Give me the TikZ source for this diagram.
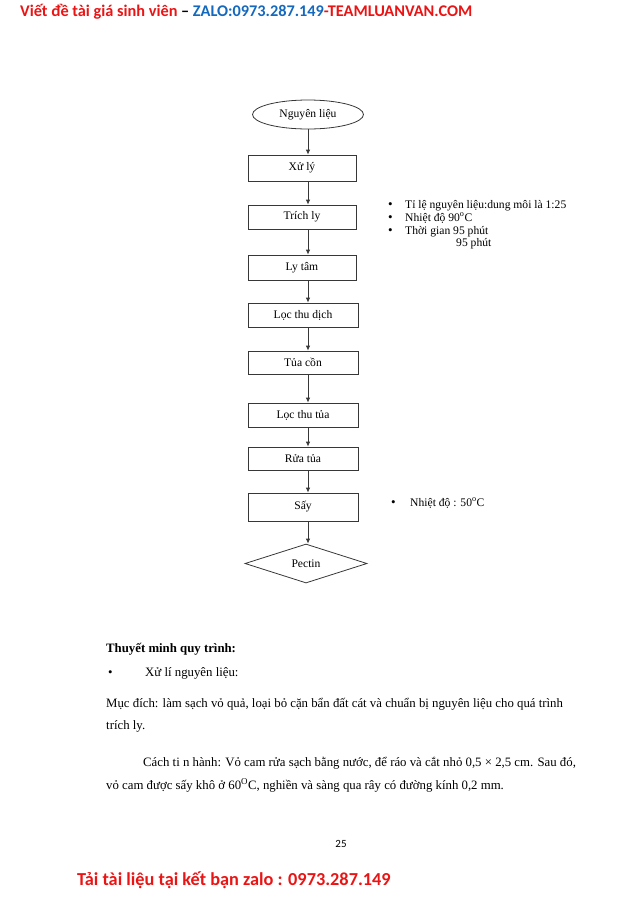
\documentclass[tikz,border=0pt]{standalone}
\usepackage{fontspec}
\setmainfont{Liberation Serif}
\newfontfamily\calib{Carlito}
\usetikzlibrary{shapes.geometric,arrows.meta}
\definecolor{hred}{RGB}{235,20,20}
\definecolor{hblue}{RGB}{20,105,190}
\definecolor{ln}{RGB}{55,55,55}
\tikzset{
  stepbox/.style={draw=ln,line width=0.8pt,rectangle,minimum width=108pt,minimum height=25pt,inner sep=0pt,font=\fontsize{11.6}{13}\selectfont},
  flowarr/.style={draw=ln,line width=0.8pt,-{Latex[length=5pt,width=4.5pt]}},
  note/.style={anchor=base west,inner sep=0pt,font=\fontsize{11.6}{13}\selectfont},
  dot/.style={anchor=base west,inner sep=0pt,font=\fontsize{13}{13}\selectfont},
  body/.style={anchor=base west,inner sep=0pt,font=\fontsize{12.8}{15}\selectfont},
}
\begin{document}
\begin{tikzpicture}[x=1pt,y=-1pt]
\useasboundingbox (0,0) rectangle (638,903);
% header
\node[anchor=base west,inner sep=0pt,font=\calib\bfseries\fontsize{16.3}{19}\selectfont] (hdr) at (20,16)
  {\textcolor{hred}{Viết đề tài giá sinh viên} – \textcolor{hblue}{ZALO:0973.287.149}\textcolor{hred}{-TEAMLUANVAN.COM}};
% flowchart
\coordinate (ax) at (308,0);
\node[draw=ln,line width=0.8pt,ellipse,minimum width=111pt,minimum height=29pt,inner sep=0pt,font=\fontsize{11.6}{13}\selectfont] (s0) at (308,114.5) {Nguyên liệu};
\node[stepbox,minimum height=26pt] (s1) at (302,168) {Xử lý};
\node[stepbox,minimum height=24pt] (s2) at (302,217) {Trích ly};
\node[stepbox] (s3) at (302,267.5) {Ly tâm};
\node[stepbox,minimum width=110pt,minimum height=24pt] (s4) at (303,315) {Lọc thu dịch};
\node[stepbox,minimum width=110pt,minimum height=23pt] (s5) at (303,362.5) {Tủa cồn};
\node[stepbox,minimum width=110pt,minimum height=24pt] (s6) at (303,415) {Lọc thu tủa};
\node[stepbox,minimum width=110pt,minimum height=23pt] (s7) at (303,458.5) {Rửa tủa};
\node[stepbox,minimum width=110pt,minimum height=28pt] (s8) at (303,507) {Sấy};
\node[draw=ln,line width=0.8pt,diamond,minimum width=122pt,minimum height=39pt,inner sep=0pt,font=\fontsize{11.6}{13}\selectfont] (s9) at (306,563.5) {Pectin};
\draw[flowarr] (s0.south) -- (s1.north -| ax);
\draw[flowarr] (s1.south -| ax) -- (s2.north -| ax);
\draw[flowarr] (s2.south -| ax) -- (s3.north -| ax);
\draw[flowarr] (s3.south -| ax) -- (s4.north -| ax);
\draw[flowarr] (s4.south -| ax) -- (s5.north -| ax);
\draw[flowarr] (s5.south -| ax) -- (s6.north -| ax);
\draw[flowarr] (s6.south -| ax) -- (s7.north -| ax);
\draw[flowarr] (s7.south -| ax) -- (s8.north -| ax);
\draw[flowarr] (s8.south -| ax) -- (s9.north -| ax);
% notes
\node[dot] (b1) at (388,208) {•};
\node[note] (n1) at (405,208) {Tỉ lệ nguyên liệu:dung môi là 1:25};
\node[dot] (b2) at (388,221) {•};
\node[note] (n2) at (405,221) {Nhiệt độ 90\textsuperscript{o}C};
\node[dot] (b3) at (388,234) {•};
\node[note] (n3) at (405,234) {Thời gian 95 phút};
\node[note] (n4) at (456,246) {95 phút};
\node[dot] (b4) at (391,506) {•};
\node[note] (n5) at (410,506) {Nhiệt độ : 50\textsuperscript{o}C};
% body text
\node[body,font=\bfseries\fontsize{12.8}{15}\selectfont] (t1) at (106,652) {Thuyết minh quy trình:};
\node[body] (t2b) at (108,676) {•};
\node[body] (t2) at (145,676) {Xử lí nguyên liệu:};
\node[body] (t3) at (106,707) {Mục đích: làm sạch vỏ quả, loại bỏ cặn bẩn đất cát và chuẩn bị nguyên liệu cho quá trình};
\node[body] (t4) at (106,729) {trích ly.};
\node[body] (t5) at (143,766) {Cách ti n hành: Vỏ cam rửa sạch bằng nước, để ráo và cắt nhỏ 0,5 × 2,5 cm. Sau đó,};
\node[body] (t6) at (106,789) {vỏ cam được sấy khô ở 60\textsuperscript{O}C, nghiền và sàng qua rây có đường kính 0,2 mm.};
% footer
\node[anchor=base,inner sep=0pt,font=\calib\fontsize{11}{13}\selectfont] (pg) at (341,847) {25};
\node[anchor=base west,inner sep=0pt,font=\calib\bfseries\fontsize{18.3}{22}\selectfont,text=hred] (ftr) at (77,885) {Tải tài liệu tại kết bạn zalo : 0973.287.149};
\end{tikzpicture}
\end{document}
